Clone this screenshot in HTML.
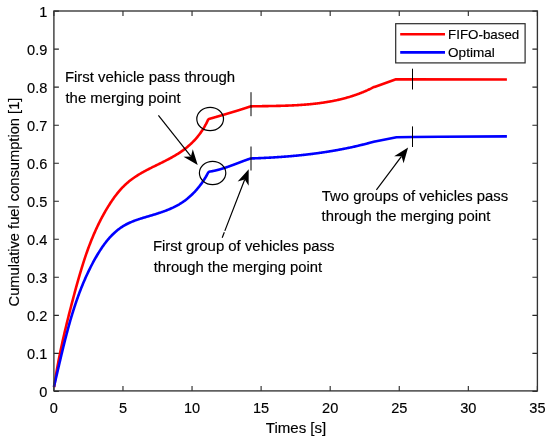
<!DOCTYPE html>
<html><head><meta charset="utf-8"><title>Cumulative fuel consumption</title>
<style>
html,body{margin:0;padding:0;background:#fff;width:550px;height:441px;overflow:hidden}
svg{display:block}
text{font-family:'Liberation Sans',Arial,Helvetica,sans-serif}
</style></head>
<body>
<svg width="550" height="441" viewBox="0 0 550 441">
<rect width="550" height="441" fill="#fff"/>
<rect x="53.9" y="11.0" width="483.50" height="379.90" fill="#fff" stroke="none"/>
<path d="M53.90 390.9 V385.90 M53.90 11.0 V16.00 M122.97 390.9 V385.90 M122.97 11.0 V16.00 M192.04 390.9 V385.90 M192.04 11.0 V16.00 M261.11 390.9 V385.90 M261.11 11.0 V16.00 M330.18 390.9 V385.90 M330.18 11.0 V16.00 M399.25 390.9 V385.90 M399.25 11.0 V16.00 M468.32 390.9 V385.90 M468.32 11.0 V16.00 M537.39 390.9 V385.90 M537.39 11.0 V16.00 M53.9 391.40 H58.90 M537.4 391.40 H532.40 M53.9 353.37 H58.90 M537.4 353.37 H532.40 M53.9 315.34 H58.90 M537.4 315.34 H532.40 M53.9 277.31 H58.90 M537.4 277.31 H532.40 M53.9 239.28 H58.90 M537.4 239.28 H532.40 M53.9 201.25 H58.90 M537.4 201.25 H532.40 M53.9 163.22 H58.90 M537.4 163.22 H532.40 M53.9 125.19 H58.90 M537.4 125.19 H532.40 M53.9 87.16 H58.90 M537.4 87.16 H532.40 M53.9 49.13 H58.90 M537.4 49.13 H532.40 M53.9 11.10 H58.90 M537.4 11.10 H532.40" stroke="#262626" stroke-width="1.1" fill="none"/>
<path d="M54.00 387.20 L54.37 385.68 L54.55 384.42 L54.73 383.16 L54.92 381.90 L55.11 380.64 L55.30 379.37 L55.50 378.11 L55.70 376.85 L55.91 375.58 L56.11 374.31 L56.33 373.04 L56.54 371.78 L56.76 370.51 L56.98 369.23 L57.21 367.96 L57.44 366.69 L57.67 365.42 L57.90 364.14 L58.14 362.87 L58.38 361.59 L58.63 360.32 L58.88 359.04 L59.13 357.76 L59.38 356.48 L59.64 355.20 L59.90 353.92 L60.16 352.64 L60.42 351.36 L60.69 350.08 L60.96 348.80 L61.23 347.52 L61.51 346.24 L61.79 344.95 L62.07 343.67 L62.35 342.39 L62.63 341.10 L62.92 339.82 L63.21 338.54 L63.50 337.25 L63.79 335.97 L64.09 334.68 L64.39 333.40 L64.69 332.12 L64.99 330.83 L65.29 329.55 L65.60 328.26 L65.91 326.98 L66.22 325.69 L66.53 324.41 L66.84 323.13 L67.16 321.84 L67.47 320.56 L67.79 319.28 L68.11 317.99 L68.43 316.71 L68.75 315.43 L69.07 314.15 L69.40 312.87 L69.72 311.59 L70.05 310.31 L70.38 309.03 L70.71 307.75 L71.04 306.47 L71.37 305.19 L71.70 303.91 L72.04 302.63 L72.37 301.36 L72.71 300.08 L73.04 298.81 L73.38 297.53 L73.72 296.26 L74.06 294.99 L74.40 293.72 L74.74 292.45 L75.08 291.18 L75.42 289.91 L75.76 288.64 L76.11 287.37 L76.46 286.11 L76.80 284.85 L77.15 283.58 L77.51 282.32 L77.86 281.06 L78.22 279.80 L78.57 278.54 L78.93 277.28 L79.30 276.03 L79.66 274.77 L80.03 273.52 L80.40 272.27 L80.77 271.02 L81.15 269.77 L81.53 268.52 L81.91 267.27 L82.30 266.03 L82.69 264.79 L83.08 263.55 L83.48 262.31 L83.88 261.07 L84.28 259.83 L84.69 258.60 L85.10 257.36 L85.52 256.13 L85.94 254.90 L86.36 253.68 L86.79 252.45 L87.23 251.23 L87.67 250.00 L88.11 248.78 L88.56 247.57 L89.01 246.35 L89.47 245.14 L89.93 243.93 L90.40 242.72 L90.88 241.51 L91.36 240.30 L91.85 239.10 L92.34 237.90 L92.84 236.70 L93.34 235.51 L93.85 234.31 L94.37 233.12 L94.89 231.93 L95.42 230.74 L95.96 229.56 L96.50 228.38 L97.05 227.20 L97.60 226.02 L98.17 224.85 L98.74 223.68 L99.32 222.51 L99.90 221.34 L100.49 220.18 L101.09 219.02 L101.70 217.86 L102.32 216.70 L102.94 215.55 L103.57 214.40 L104.21 213.26 L104.86 212.11 L105.52 210.97 L106.18 209.83 L106.86 208.70 L107.54 207.57 L108.23 206.44 L108.93 205.31 L109.64 204.19 L110.36 203.08 L111.09 201.97 L111.83 200.87 L112.58 199.78 L113.34 198.69 L114.11 197.61 L114.89 196.54 L115.69 195.49 L116.49 194.44 L117.31 193.40 L118.14 192.38 L118.98 191.37 L119.83 190.38 L120.70 189.39 L121.58 188.43 L122.48 187.48 L123.38 186.54 L124.30 185.62 L125.24 184.72 L126.19 183.84 L127.15 182.98 L128.13 182.14 L129.13 181.31 L130.13 180.51 L131.16 179.72 L132.19 178.95 L133.24 178.20 L134.29 177.47 L135.36 176.74 L136.44 176.04 L137.53 175.34 L138.64 174.66 L139.74 173.99 L140.86 173.33 L141.99 172.69 L143.12 172.05 L144.26 171.42 L145.41 170.80 L146.56 170.19 L147.72 169.58 L148.88 168.98 L150.05 168.39 L151.22 167.80 L152.39 167.21 L153.57 166.63 L154.75 166.04 L155.93 165.47 L157.11 164.89 L158.29 164.31 L159.47 163.73 L160.65 163.15 L161.83 162.57 L163.00 161.98 L164.18 161.39 L165.35 160.80 L166.52 160.20 L167.68 159.60 L168.84 158.99 L170.00 158.37 L171.15 157.74 L172.29 157.11 L173.43 156.47 L174.56 155.81 L175.68 155.15 L176.79 154.48 L177.90 153.79 L179.00 153.09 L180.08 152.38 L181.16 151.65 L182.23 150.91 L183.28 150.16 L184.32 149.38 L185.35 148.59 L186.37 147.79 L187.37 146.96 L188.37 146.12 L189.34 145.27 L190.31 144.39 L191.26 143.50 L192.19 142.60 L193.11 141.68 L194.02 140.74 L194.91 139.78 L195.78 138.81 L196.64 137.82 L197.48 136.82 L198.31 135.80 L199.12 134.76 L199.91 133.71 L200.69 132.64 L201.45 131.56 L202.19 130.46 L202.91 129.35 L203.62 128.22 L204.30 127.07 L204.97 125.91 L205.62 124.73 L206.24 123.54 L206.85 122.34 L207.44 121.12 L208.01 119.88 L208.90 119.00 L209.07 118.97 L209.24 118.92 L209.41 118.87 L209.58 118.82 L209.74 118.77 L209.91 118.72 L210.08 118.67 L210.25 118.63 L210.41 118.58 L210.58 118.53 L210.75 118.48 L210.92 118.43 L211.08 118.38 L211.25 118.33 L211.42 118.29 L211.59 118.24 L211.75 118.19 L211.92 118.14 L212.09 118.09 L212.26 118.04 L212.43 117.99 L212.59 117.95 L212.76 117.90 L212.93 117.85 L213.10 117.80 L213.26 117.75 L213.43 117.70 L213.60 117.65 L213.77 117.61 L213.93 117.56 L214.10 117.51 L214.27 117.46 L214.44 117.41 L214.61 117.36 L214.77 117.31 L214.94 117.27 L215.11 117.22 L215.28 117.17 L215.44 117.12 L215.61 117.07 L215.78 117.02 L215.95 116.98 L216.11 116.93 L216.28 116.88 L216.45 116.83 L216.62 116.78 L216.79 116.73 L216.95 116.68 L217.12 116.64 L217.29 116.59 L217.46 116.54 L217.62 116.49 L217.79 116.44 L217.96 116.39 L218.13 116.34 L218.29 116.30 L218.46 116.25 L218.63 116.20 L218.80 116.15 L218.97 116.10 L219.13 116.05 L219.30 116.00 L219.47 115.96 L219.64 115.91 L219.80 115.86 L219.97 115.81 L220.14 115.76 L220.31 115.71 L220.47 115.66 L220.64 115.62 L220.81 115.57 L220.98 115.52 L221.14 115.47 L221.31 115.42 L221.48 115.37 L221.65 115.32 L221.82 115.27 L221.98 115.23 L222.15 115.18 L222.32 115.13 L222.49 115.08 L222.65 115.03 L222.82 114.98 L222.99 114.93 L223.16 114.88 L223.32 114.83 L223.49 114.79 L223.66 114.74 L223.83 114.69 L223.99 114.64 L224.16 114.59 L224.33 114.54 L224.50 114.49 L224.66 114.44 L224.83 114.39 L225.00 114.34 L225.17 114.30 L225.33 114.25 L225.50 114.20 L225.67 114.15 L225.84 114.10 L226.00 114.05 L226.17 114.00 L226.34 113.95 L226.51 113.90 L226.67 113.85 L226.84 113.80 L227.01 113.75 L227.18 113.70 L227.34 113.66 L227.51 113.61 L227.68 113.56 L227.85 113.51 L228.01 113.46 L228.18 113.41 L228.35 113.36 L228.52 113.31 L228.68 113.26 L228.85 113.21 L229.02 113.16 L229.19 113.11 L229.35 113.06 L229.52 113.01 L229.69 112.96 L229.86 112.91 L230.02 112.86 L230.19 112.81 L230.36 112.76 L230.53 112.71 L230.69 112.66 L230.86 112.61 L231.03 112.56 L231.19 112.51 L231.36 112.46 L231.53 112.41 L231.70 112.36 L231.86 112.31 L232.03 112.26 L232.20 112.21 L232.36 112.16 L232.53 112.11 L232.70 112.06 L232.87 112.01 L233.03 111.96 L233.20 111.91 L233.37 111.86 L233.53 111.81 L233.70 111.76 L233.87 111.71 L234.04 111.66 L234.20 111.61 L234.37 111.55 L234.54 111.50 L234.70 111.45 L234.87 111.40 L235.04 111.35 L235.21 111.30 L235.37 111.25 L235.54 111.20 L235.71 111.15 L235.87 111.10 L236.04 111.05 L236.21 110.99 L236.37 110.94 L236.54 110.89 L236.71 110.84 L236.87 110.79 L237.04 110.74 L237.21 110.69 L237.37 110.64 L237.54 110.58 L237.71 110.53 L237.88 110.48 L238.04 110.43 L238.21 110.38 L238.38 110.33 L238.54 110.27 L238.71 110.22 L238.88 110.17 L239.04 110.12 L239.21 110.07 L239.38 110.01 L239.54 109.96 L239.71 109.91 L239.88 109.86 L240.04 109.81 L240.21 109.75 L240.38 109.70 L240.54 109.65 L240.71 109.60 L240.87 109.54 L241.04 109.49 L241.21 109.44 L241.37 109.39 L241.54 109.33 L241.71 109.28 L241.87 109.23 L242.04 109.18 L242.21 109.12 L242.37 109.07 L242.54 109.02 L242.71 108.96 L242.87 108.91 L243.04 108.86 L243.20 108.80 L243.37 108.75 L243.54 108.70 L243.70 108.65 L243.87 108.59 L244.04 108.54 L244.20 108.48 L244.37 108.43 L244.53 108.38 L244.70 108.32 L244.87 108.27 L245.03 108.22 L245.20 108.16 L245.36 108.11 L245.53 108.05 L245.70 108.00 L245.86 107.95 L246.03 107.89 L246.19 107.84 L246.36 107.78 L246.53 107.73 L246.69 107.67 L246.86 107.62 L247.02 107.57 L247.19 107.51 L247.36 107.46 L247.52 107.40 L247.69 107.35 L247.85 107.29 L248.02 107.24 L248.18 107.18 L248.35 107.13 L248.52 107.07 L248.68 107.02 L248.85 106.96 L249.01 106.91 L249.18 106.85 L249.34 106.79 L249.51 106.74 L249.67 106.68 L249.84 106.63 L250.01 106.57 L250.17 106.52 L250.34 106.46 L250.50 106.40 L251.03 106.35 L251.54 106.34 L252.04 106.33 L252.54 106.32 L253.05 106.31 L253.55 106.30 L254.06 106.29 L254.56 106.29 L255.06 106.28 L255.57 106.27 L256.07 106.26 L256.58 106.25 L257.09 106.24 L257.59 106.24 L258.10 106.23 L258.60 106.22 L259.11 106.21 L259.61 106.21 L260.12 106.20 L260.63 106.19 L261.13 106.18 L261.64 106.18 L262.15 106.17 L262.66 106.16 L263.16 106.15 L263.67 106.15 L264.18 106.14 L264.69 106.13 L265.19 106.12 L265.70 106.11 L266.21 106.11 L266.72 106.10 L267.23 106.09 L267.74 106.08 L268.24 106.08 L268.75 106.07 L269.26 106.06 L269.77 106.05 L270.28 106.04 L270.79 106.03 L271.30 106.02 L271.81 106.01 L272.32 106.01 L272.83 106.00 L273.34 105.99 L273.85 105.98 L274.36 105.97 L274.87 105.96 L275.38 105.95 L275.89 105.94 L276.40 105.92 L276.91 105.91 L277.42 105.90 L277.93 105.89 L278.44 105.88 L278.95 105.87 L279.46 105.85 L279.97 105.84 L280.48 105.83 L280.99 105.81 L281.50 105.80 L282.01 105.78 L282.52 105.77 L283.04 105.75 L283.55 105.74 L284.06 105.72 L284.57 105.71 L285.08 105.69 L285.59 105.67 L286.10 105.66 L286.61 105.64 L287.12 105.62 L287.63 105.60 L288.14 105.58 L288.65 105.56 L289.17 105.54 L289.68 105.52 L290.19 105.50 L290.70 105.48 L291.21 105.46 L291.72 105.43 L292.23 105.41 L292.74 105.39 L293.25 105.36 L293.76 105.34 L294.27 105.31 L294.78 105.29 L295.29 105.26 L295.80 105.23 L296.31 105.20 L296.82 105.18 L297.34 105.15 L297.85 105.12 L298.36 105.09 L298.87 105.06 L299.38 105.02 L299.89 104.99 L300.39 104.96 L300.90 104.92 L301.41 104.89 L301.92 104.85 L302.43 104.82 L302.94 104.78 L303.45 104.74 L303.96 104.71 L304.47 104.67 L304.98 104.63 L305.49 104.59 L306.00 104.55 L306.50 104.50 L307.01 104.46 L307.52 104.42 L308.03 104.37 L308.54 104.33 L309.04 104.28 L309.55 104.24 L310.06 104.19 L310.57 104.14 L311.07 104.09 L311.58 104.04 L312.09 103.99 L312.60 103.94 L313.10 103.88 L313.61 103.83 L314.11 103.77 L314.62 103.72 L315.13 103.66 L315.63 103.60 L316.14 103.54 L316.64 103.48 L317.15 103.42 L317.65 103.36 L318.16 103.30 L318.66 103.23 L319.17 103.17 L319.67 103.10 L320.17 103.04 L320.68 102.97 L321.18 102.90 L321.69 102.83 L322.19 102.76 L322.69 102.69 L323.19 102.61 L323.70 102.54 L324.20 102.46 L324.70 102.39 L325.20 102.31 L325.70 102.23 L326.20 102.15 L326.70 102.07 L327.21 101.99 L327.71 101.90 L328.21 101.82 L328.71 101.73 L329.21 101.64 L329.70 101.56 L330.20 101.47 L330.70 101.38 L331.20 101.28 L331.70 101.19 L332.20 101.10 L332.69 101.00 L333.19 100.90 L333.69 100.80 L334.18 100.70 L334.68 100.60 L335.18 100.50 L335.67 100.40 L336.17 100.29 L336.66 100.18 L337.16 100.08 L337.65 99.97 L338.15 99.86 L338.64 99.75 L339.13 99.63 L339.63 99.52 L340.12 99.40 L340.61 99.28 L341.10 99.16 L341.60 99.04 L342.09 98.92 L342.58 98.80 L343.07 98.67 L343.56 98.55 L344.05 98.42 L344.54 98.29 L345.03 98.16 L345.52 98.03 L346.01 97.89 L346.49 97.76 L346.98 97.62 L347.47 97.48 L347.96 97.34 L348.44 97.20 L348.93 97.06 L349.41 96.91 L349.90 96.77 L350.38 96.62 L350.87 96.47 L351.35 96.32 L351.84 96.17 L352.32 96.01 L352.80 95.86 L353.28 95.70 L353.77 95.54 L354.25 95.38 L354.73 95.21 L355.21 95.05 L355.69 94.88 L356.17 94.72 L356.65 94.55 L357.13 94.37 L357.60 94.20 L358.08 94.03 L358.56 93.85 L359.04 93.67 L359.51 93.49 L359.99 93.31 L360.46 93.13 L360.94 92.94 L361.41 92.75 L361.89 92.56 L362.36 92.37 L362.84 92.18 L363.31 91.98 L363.78 91.79 L364.25 91.59 L364.72 91.39 L365.19 91.19 L365.66 90.98 L366.13 90.78 L366.60 90.57 L367.07 90.36 L367.54 90.15 L368.00 89.93 L368.47 89.72 L368.94 89.50 L369.40 89.28 L369.87 89.06 L370.33 88.83 L370.80 88.61 L371.26 88.38 L371.72 88.15 L372.19 87.92 L372.65 87.69 L373.11 87.45 L373.57 87.21 L374.03 86.97 L374.50 86.90 L396.00 79.30 L412.70 79.40 L506.90 79.50" stroke="#ff0000" stroke-width="2.6" fill="none" stroke-linejoin="round" stroke-linecap="butt"/>
<path d="M54.10 386.90 L54.17 385.65 L54.43 384.56 L54.70 383.47 L54.96 382.37 L55.21 381.28 L55.47 380.18 L55.73 379.08 L55.99 377.99 L56.25 376.89 L56.51 375.79 L56.76 374.69 L57.02 373.59 L57.28 372.49 L57.54 371.39 L57.79 370.28 L58.05 369.18 L58.31 368.08 L58.57 366.97 L58.83 365.87 L59.08 364.76 L59.34 363.66 L59.60 362.55 L59.86 361.44 L60.12 360.34 L60.38 359.23 L60.64 358.12 L60.91 357.01 L61.17 355.91 L61.43 354.80 L61.70 353.69 L61.96 352.58 L62.23 351.47 L62.50 350.36 L62.77 349.25 L63.04 348.15 L63.31 347.04 L63.58 345.93 L63.85 344.82 L64.13 343.71 L64.40 342.60 L64.68 341.50 L64.96 340.39 L65.24 339.28 L65.52 338.17 L65.81 337.07 L66.10 335.96 L66.38 334.85 L66.67 333.75 L66.96 332.64 L67.26 331.54 L67.55 330.43 L67.85 329.33 L68.15 328.22 L68.45 327.12 L68.76 326.02 L69.06 324.92 L69.37 323.82 L69.68 322.72 L70.00 321.62 L70.31 320.52 L70.63 319.42 L70.95 318.32 L71.28 317.23 L71.60 316.13 L71.93 315.04 L72.26 313.95 L72.60 312.85 L72.94 311.76 L73.28 310.67 L73.62 309.58 L73.97 308.50 L74.32 307.41 L74.68 306.32 L75.03 305.24 L75.39 304.16 L75.76 303.07 L76.12 301.99 L76.49 300.91 L76.87 299.84 L77.25 298.76 L77.63 297.69 L78.01 296.61 L78.40 295.54 L78.80 294.47 L79.19 293.40 L79.59 292.33 L80.00 291.27 L80.41 290.21 L80.82 289.14 L81.24 288.08 L81.66 287.02 L82.08 285.97 L82.51 284.91 L82.95 283.86 L83.38 282.81 L83.83 281.76 L84.28 280.71 L84.73 279.66 L85.18 278.62 L85.65 277.58 L86.11 276.54 L86.58 275.50 L87.06 274.47 L87.54 273.44 L88.03 272.40 L88.52 271.38 L89.01 270.35 L89.51 269.33 L90.02 268.30 L90.53 267.28 L91.05 266.27 L91.57 265.25 L92.10 264.24 L92.63 263.23 L93.17 262.22 L93.72 261.22 L94.26 260.22 L94.82 259.22 L95.38 258.22 L95.95 257.23 L96.52 256.24 L97.10 255.25 L97.69 254.27 L98.28 253.29 L98.88 252.31 L99.49 251.34 L100.10 250.38 L100.72 249.42 L101.35 248.47 L101.99 247.53 L102.63 246.59 L103.29 245.66 L103.95 244.74 L104.62 243.82 L105.30 242.92 L105.99 242.03 L106.69 241.14 L107.40 240.27 L108.12 239.40 L108.86 238.55 L109.60 237.71 L110.35 236.88 L111.11 236.07 L111.89 235.26 L112.67 234.47 L113.47 233.70 L114.28 232.94 L115.10 232.19 L115.94 231.46 L116.78 230.74 L117.64 230.04 L118.51 229.35 L119.40 228.69 L120.30 228.03 L121.21 227.40 L122.14 226.79 L123.08 226.19 L124.04 225.61 L125.01 225.05 L126.00 224.52 L127.00 223.99 L128.01 223.49 L129.04 223.01 L130.07 222.53 L131.12 222.08 L132.18 221.64 L133.25 221.21 L134.32 220.79 L135.41 220.39 L136.50 220.00 L137.60 219.62 L138.70 219.24 L139.81 218.88 L140.93 218.52 L142.05 218.17 L143.17 217.82 L144.29 217.48 L145.42 217.14 L146.55 216.81 L147.67 216.48 L148.80 216.15 L149.93 215.82 L151.05 215.49 L152.17 215.16 L153.29 214.83 L154.40 214.49 L155.51 214.16 L156.62 213.81 L157.71 213.47 L158.81 213.11 L159.89 212.76 L160.98 212.39 L162.05 212.02 L163.12 211.64 L164.18 211.26 L165.24 210.87 L166.29 210.46 L167.34 210.05 L168.37 209.63 L169.40 209.20 L170.43 208.76 L171.44 208.31 L172.45 207.85 L173.46 207.38 L174.45 206.89 L175.44 206.39 L176.42 205.88 L177.39 205.35 L178.35 204.81 L179.31 204.26 L180.25 203.69 L181.19 203.11 L182.12 202.51 L183.04 201.89 L183.95 201.26 L184.86 200.61 L185.75 199.94 L186.64 199.25 L187.52 198.55 L188.38 197.83 L189.24 197.09 L190.09 196.34 L190.93 195.58 L191.75 194.79 L192.57 194.00 L193.38 193.19 L194.18 192.36 L194.96 191.52 L195.74 190.67 L196.51 189.80 L197.26 188.92 L198.00 188.03 L198.74 187.13 L199.46 186.22 L200.17 185.29 L200.87 184.35 L201.55 183.41 L202.23 182.45 L202.89 181.48 L203.54 180.50 L204.18 179.52 L204.81 178.52 L205.43 177.52 L206.03 176.50 L206.62 175.48 L207.19 174.46 L207.76 173.42 L208.31 172.38 L209.10 171.70 L209.27 171.68 L209.45 171.66 L209.62 171.63 L209.80 171.60 L209.97 171.58 L210.14 171.55 L210.31 171.52 L210.49 171.49 L210.66 171.46 L210.83 171.43 L211.01 171.40 L211.18 171.37 L211.35 171.34 L211.52 171.31 L211.70 171.28 L211.87 171.25 L212.04 171.21 L212.21 171.18 L212.38 171.15 L212.56 171.12 L212.73 171.08 L212.90 171.05 L213.07 171.01 L213.24 170.98 L213.41 170.94 L213.58 170.91 L213.76 170.87 L213.93 170.83 L214.10 170.80 L214.27 170.76 L214.44 170.72 L214.61 170.69 L214.78 170.65 L214.95 170.61 L215.12 170.57 L215.29 170.53 L215.46 170.49 L215.63 170.45 L215.80 170.41 L215.97 170.37 L216.14 170.33 L216.31 170.29 L216.48 170.25 L216.65 170.21 L216.82 170.16 L216.99 170.12 L217.16 170.08 L217.33 170.04 L217.50 169.99 L217.66 169.95 L217.83 169.91 L218.00 169.86 L218.17 169.82 L218.34 169.77 L218.51 169.73 L218.68 169.68 L218.84 169.64 L219.01 169.59 L219.18 169.54 L219.35 169.50 L219.52 169.45 L219.69 169.40 L219.85 169.36 L220.02 169.31 L220.19 169.26 L220.36 169.21 L220.52 169.16 L220.69 169.12 L220.86 169.07 L221.03 169.02 L221.19 168.97 L221.36 168.92 L221.53 168.87 L221.70 168.82 L221.86 168.77 L222.03 168.72 L222.20 168.67 L222.36 168.62 L222.53 168.56 L222.70 168.51 L222.87 168.46 L223.03 168.41 L223.20 168.36 L223.37 168.31 L223.53 168.25 L223.70 168.20 L223.86 168.15 L224.03 168.09 L224.20 168.04 L224.36 167.99 L224.53 167.93 L224.70 167.88 L224.86 167.82 L225.03 167.77 L225.19 167.71 L225.36 167.66 L225.53 167.60 L225.69 167.55 L225.86 167.49 L226.02 167.44 L226.19 167.38 L226.35 167.33 L226.52 167.27 L226.68 167.21 L226.85 167.16 L227.02 167.10 L227.18 167.04 L227.35 166.99 L227.51 166.93 L227.68 166.87 L227.84 166.82 L228.01 166.76 L228.17 166.70 L228.34 166.64 L228.50 166.58 L228.67 166.53 L228.83 166.47 L229.00 166.41 L229.16 166.35 L229.33 166.29 L229.49 166.23 L229.66 166.17 L229.82 166.12 L229.99 166.06 L230.15 166.00 L230.31 165.94 L230.48 165.88 L230.64 165.82 L230.81 165.76 L230.97 165.70 L231.14 165.64 L231.30 165.58 L231.47 165.52 L231.63 165.46 L231.79 165.40 L231.96 165.34 L232.12 165.28 L232.29 165.22 L232.45 165.16 L232.62 165.09 L232.78 165.03 L232.94 164.97 L233.11 164.91 L233.27 164.85 L233.44 164.79 L233.60 164.73 L233.76 164.67 L233.93 164.61 L234.09 164.54 L234.26 164.48 L234.42 164.42 L234.58 164.36 L234.75 164.30 L234.91 164.24 L235.08 164.17 L235.24 164.11 L235.40 164.05 L235.57 163.99 L235.73 163.93 L235.89 163.86 L236.06 163.80 L236.22 163.74 L236.39 163.68 L236.55 163.62 L236.71 163.55 L236.88 163.49 L237.04 163.43 L237.20 163.37 L237.37 163.31 L237.53 163.24 L237.70 163.18 L237.86 163.12 L238.02 163.06 L238.19 162.99 L238.35 162.93 L238.51 162.87 L238.68 162.81 L238.84 162.75 L239.00 162.68 L239.17 162.62 L239.33 162.56 L239.50 162.50 L239.66 162.43 L239.82 162.37 L239.99 162.31 L240.15 162.25 L240.31 162.19 L240.48 162.12 L240.64 162.06 L240.81 162.00 L240.97 161.94 L241.13 161.88 L241.30 161.82 L241.46 161.75 L241.62 161.69 L241.79 161.63 L241.95 161.57 L242.12 161.51 L242.28 161.45 L242.44 161.38 L242.61 161.32 L242.77 161.26 L242.93 161.20 L243.10 161.14 L243.26 161.08 L243.43 161.02 L243.59 160.96 L243.75 160.90 L243.92 160.83 L244.08 160.77 L244.25 160.71 L244.41 160.65 L244.57 160.59 L244.74 160.53 L244.90 160.47 L245.07 160.41 L245.23 160.35 L245.40 160.29 L245.56 160.23 L245.72 160.17 L245.89 160.11 L246.05 160.05 L246.22 159.99 L246.38 159.94 L246.55 159.88 L246.71 159.82 L246.87 159.76 L247.04 159.70 L247.20 159.64 L247.37 159.58 L247.53 159.53 L247.70 159.47 L247.86 159.41 L248.03 159.35 L248.19 159.29 L248.36 159.24 L248.52 159.18 L248.68 159.12 L248.85 159.06 L249.01 159.01 L249.18 158.95 L249.34 158.89 L249.51 158.84 L249.67 158.78 L249.84 158.73 L250.00 158.67 L250.17 158.61 L250.33 158.56 L250.50 158.50 L251.00 158.45 L251.51 158.44 L252.01 158.42 L252.52 158.40 L253.02 158.38 L253.53 158.37 L254.03 158.35 L254.54 158.33 L255.05 158.31 L255.55 158.29 L256.06 158.27 L256.56 158.25 L257.07 158.23 L257.57 158.21 L258.08 158.19 L258.58 158.17 L259.09 158.15 L259.59 158.13 L260.10 158.11 L260.61 158.09 L261.11 158.06 L261.62 158.04 L262.12 158.02 L262.63 157.99 L263.13 157.97 L263.64 157.95 L264.14 157.92 L264.65 157.90 L265.15 157.87 L265.66 157.85 L266.17 157.82 L266.67 157.80 L267.18 157.77 L267.68 157.74 L268.19 157.72 L268.69 157.69 L269.20 157.66 L269.70 157.63 L270.21 157.61 L270.71 157.58 L271.22 157.55 L271.72 157.52 L272.23 157.49 L272.73 157.46 L273.24 157.43 L273.74 157.40 L274.25 157.37 L274.75 157.34 L275.26 157.31 L275.76 157.27 L276.27 157.24 L276.77 157.21 L277.28 157.17 L277.78 157.14 L278.29 157.11 L278.79 157.07 L279.30 157.04 L279.80 157.00 L280.31 156.97 L280.81 156.93 L281.32 156.90 L281.82 156.86 L282.33 156.82 L282.83 156.78 L283.34 156.75 L283.84 156.71 L284.35 156.67 L284.85 156.63 L285.36 156.59 L285.86 156.55 L286.36 156.51 L286.87 156.47 L287.37 156.43 L287.88 156.39 L288.38 156.35 L288.89 156.31 L289.39 156.26 L289.89 156.22 L290.40 156.18 L290.90 156.13 L291.41 156.09 L291.91 156.04 L292.41 156.00 L292.92 155.95 L293.42 155.91 L293.93 155.86 L294.43 155.82 L294.93 155.77 L295.44 155.72 L295.94 155.67 L296.44 155.62 L296.95 155.58 L297.45 155.53 L297.96 155.48 L298.46 155.43 L298.96 155.38 L299.47 155.33 L299.97 155.27 L300.47 155.22 L300.97 155.17 L301.48 155.12 L301.98 155.06 L302.48 155.01 L302.99 154.96 L303.49 154.90 L303.99 154.85 L304.50 154.79 L305.00 154.73 L305.50 154.68 L306.00 154.62 L306.51 154.56 L307.01 154.51 L307.51 154.45 L308.01 154.39 L308.52 154.33 L309.02 154.27 L309.52 154.21 L310.02 154.15 L310.52 154.09 L311.03 154.02 L311.53 153.96 L312.03 153.90 L312.53 153.84 L313.03 153.77 L313.53 153.71 L314.04 153.64 L314.54 153.58 L315.04 153.51 L315.54 153.45 L316.04 153.38 L316.54 153.31 L317.04 153.25 L317.54 153.18 L318.04 153.11 L318.55 153.04 L319.05 152.97 L319.55 152.90 L320.05 152.83 L320.55 152.76 L321.05 152.69 L321.55 152.61 L322.05 152.54 L322.55 152.47 L323.05 152.39 L323.55 152.32 L324.05 152.24 L324.55 152.17 L325.05 152.09 L325.55 152.02 L326.05 151.94 L326.55 151.86 L327.05 151.78 L327.55 151.71 L328.05 151.63 L328.55 151.55 L329.04 151.47 L329.54 151.39 L330.04 151.30 L330.54 151.22 L331.04 151.14 L331.54 151.06 L332.04 150.97 L332.54 150.89 L333.03 150.80 L333.53 150.72 L334.03 150.63 L334.53 150.55 L335.03 150.46 L335.52 150.37 L336.02 150.28 L336.52 150.20 L337.02 150.11 L337.51 150.02 L338.01 149.93 L338.51 149.84 L339.01 149.74 L339.50 149.65 L340.00 149.56 L340.50 149.47 L340.99 149.37 L341.49 149.28 L341.99 149.18 L342.48 149.09 L342.98 148.99 L343.48 148.89 L343.97 148.80 L344.47 148.70 L344.96 148.60 L345.46 148.50 L345.96 148.40 L346.45 148.30 L346.95 148.20 L347.44 148.10 L347.94 147.99 L348.43 147.89 L348.93 147.79 L349.42 147.68 L349.92 147.58 L350.41 147.47 L350.91 147.37 L351.40 147.26 L351.89 147.15 L352.39 147.05 L352.88 146.94 L353.38 146.83 L353.87 146.72 L354.36 146.61 L354.86 146.50 L355.35 146.38 L355.84 146.27 L356.34 146.16 L356.83 146.05 L357.32 145.93 L357.82 145.82 L358.31 145.70 L358.80 145.58 L359.29 145.47 L359.79 145.35 L360.28 145.23 L360.77 145.11 L361.26 144.99 L361.75 144.87 L362.25 144.75 L362.74 144.63 L363.23 144.51 L363.72 144.39 L364.21 144.26 L364.70 144.14 L365.19 144.01 L365.68 143.89 L366.17 143.76 L366.66 143.64 L367.15 143.51 L367.64 143.38 L368.13 143.25 L368.62 143.12 L369.11 142.99 L369.60 142.86 L370.09 142.73 L370.58 142.60 L371.07 142.46 L371.56 142.33 L372.05 142.19 L372.54 142.06 L373.03 141.92 L373.51 141.79 L374.00 141.65 L374.49 141.51 L375.00 141.50 L396.50 137.20 L412.70 137.00 L440.00 136.80 L506.90 136.40" stroke="#0000ff" stroke-width="2.6" fill="none" stroke-linejoin="round" stroke-linecap="butt"/>
<path d="M251 92.2 V116.2 M251 146.5 V170.5 M412.5 68.7 V89.5 M412.5 126.4 V147" stroke="#000" stroke-width="1" fill="none"/>
<ellipse cx="210.15" cy="119" rx="13.35" ry="11.7" stroke="#000" stroke-width="1.2" fill="none"/>
<ellipse cx="212.6" cy="173" rx="13.2" ry="11.6" stroke="#000" stroke-width="1.2" fill="none"/>
<path d="M158.40 115.30 L190.89 156.46" stroke="#000" stroke-width="1.2" fill="none"/><path d="M197.70 165.10 L183.53 156.67 L190.89 156.46 L192.79 149.36 Z" fill="#000"/>
<path d="M222.20 237.70 L224.33 232.20 M224.83 230.90 L244.73 179.46" stroke="#000" stroke-width="1.2" fill="none"/><path d="M248.70 169.20 L248.65 185.69 L244.73 179.46 L237.64 181.43 Z" fill="#000"/>
<path d="M376.40 189.90 L401.51 156.31" stroke="#000" stroke-width="1.2" fill="none"/><path d="M408.10 147.50 L403.60 163.37 L401.51 156.31 L394.15 156.30 Z" fill="#000"/>
<rect x="53.9" y="11.0" width="483.50" height="379.90" fill="none" stroke="#333" stroke-width="1.35"/>
<rect x="395.7" y="23.7" width="129.4" height="39.2" fill="#fff" stroke="#2a2a2a" stroke-width="1.2"/>
<path d="M400.2 34.3 H445" stroke="#ff0000" stroke-width="2.6"/>
<path d="M400.2 52.4 H445" stroke="#0000ff" stroke-width="2.6"/>
<g fill="#000" stroke="#000" stroke-width="0.15" style="font-family:'Liberation Sans',Arial,Helvetica,sans-serif">
<text x="448.1" y="39.4" font-size="13" text-anchor="start" textLength="71.16" lengthAdjust="spacingAndGlyphs">FIFO-based</text>
<text x="448.1" y="56.8" font-size="13" text-anchor="start" textLength="46.58" lengthAdjust="spacingAndGlyphs">Optimal</text>
<text x="53.90" y="412.5" font-size="14" text-anchor="middle" textLength="8.10" lengthAdjust="spacingAndGlyphs">0</text>
<text x="122.97" y="412.5" font-size="14" text-anchor="middle" textLength="8.10" lengthAdjust="spacingAndGlyphs">5</text>
<text x="192.04" y="412.5" font-size="14" text-anchor="middle" textLength="16.20" lengthAdjust="spacingAndGlyphs">10</text>
<text x="261.11" y="412.5" font-size="14" text-anchor="middle" textLength="16.20" lengthAdjust="spacingAndGlyphs">15</text>
<text x="330.18" y="412.5" font-size="14" text-anchor="middle" textLength="16.20" lengthAdjust="spacingAndGlyphs">20</text>
<text x="399.25" y="412.5" font-size="14" text-anchor="middle" textLength="16.20" lengthAdjust="spacingAndGlyphs">25</text>
<text x="468.32" y="412.5" font-size="14" text-anchor="middle" textLength="16.20" lengthAdjust="spacingAndGlyphs">30</text>
<text x="537.39" y="412.5" font-size="14" text-anchor="middle" textLength="16.20" lengthAdjust="spacingAndGlyphs">35</text>
<text x="47.3" y="397.10" font-size="14" text-anchor="end" textLength="8.10" lengthAdjust="spacingAndGlyphs">0</text>
<text x="47.3" y="359.07" font-size="14" text-anchor="end" textLength="20.24" lengthAdjust="spacingAndGlyphs">0.1</text>
<text x="47.3" y="321.04" font-size="14" text-anchor="end" textLength="20.24" lengthAdjust="spacingAndGlyphs">0.2</text>
<text x="47.3" y="283.01" font-size="14" text-anchor="end" textLength="20.24" lengthAdjust="spacingAndGlyphs">0.3</text>
<text x="47.3" y="244.98" font-size="14" text-anchor="end" textLength="20.24" lengthAdjust="spacingAndGlyphs">0.4</text>
<text x="47.3" y="206.95" font-size="14" text-anchor="end" textLength="20.24" lengthAdjust="spacingAndGlyphs">0.5</text>
<text x="47.3" y="168.92" font-size="14" text-anchor="end" textLength="20.24" lengthAdjust="spacingAndGlyphs">0.6</text>
<text x="47.3" y="130.89" font-size="14" text-anchor="end" textLength="20.24" lengthAdjust="spacingAndGlyphs">0.7</text>
<text x="47.3" y="92.86" font-size="14" text-anchor="end" textLength="20.24" lengthAdjust="spacingAndGlyphs">0.8</text>
<text x="47.3" y="54.83" font-size="14" text-anchor="end" textLength="20.24" lengthAdjust="spacingAndGlyphs">0.9</text>
<text x="47.3" y="16.80" font-size="14" text-anchor="end" textLength="8.10" lengthAdjust="spacingAndGlyphs">1</text>
<text x="296" y="432.5" font-size="14" text-anchor="middle" textLength="60.5" lengthAdjust="spacingAndGlyphs">Times [s]</text>
<text transform="translate(18.7 202) rotate(-90)" x="0" y="0" font-size="14" text-anchor="middle" textLength="208.8" lengthAdjust="spacingAndGlyphs">Cumulative fuel consumption [1]</text>
<text x="64.9" y="81.9" font-size="14" text-anchor="start" textLength="170.2" lengthAdjust="spacingAndGlyphs">First vehicle pass through</text>
<text x="65.47" y="102.6" font-size="14" text-anchor="start" textLength="115.15" lengthAdjust="spacingAndGlyphs">the merging point</text>
<text x="152.9" y="251.4" font-size="14" text-anchor="start" textLength="181.56" lengthAdjust="spacingAndGlyphs">First group of vehicles pass</text>
<text x="153.67" y="272" font-size="14" text-anchor="start" textLength="168.38" lengthAdjust="spacingAndGlyphs">through the merging point</text>
<text x="321.87" y="200.5" font-size="14" text-anchor="start" textLength="186.32" lengthAdjust="spacingAndGlyphs">Two groups of vehicles pass</text>
<text x="321.57" y="221.4" font-size="14" text-anchor="start" textLength="168.78" lengthAdjust="spacingAndGlyphs">through the merging point</text>
</g>
</svg>
</body></html>
